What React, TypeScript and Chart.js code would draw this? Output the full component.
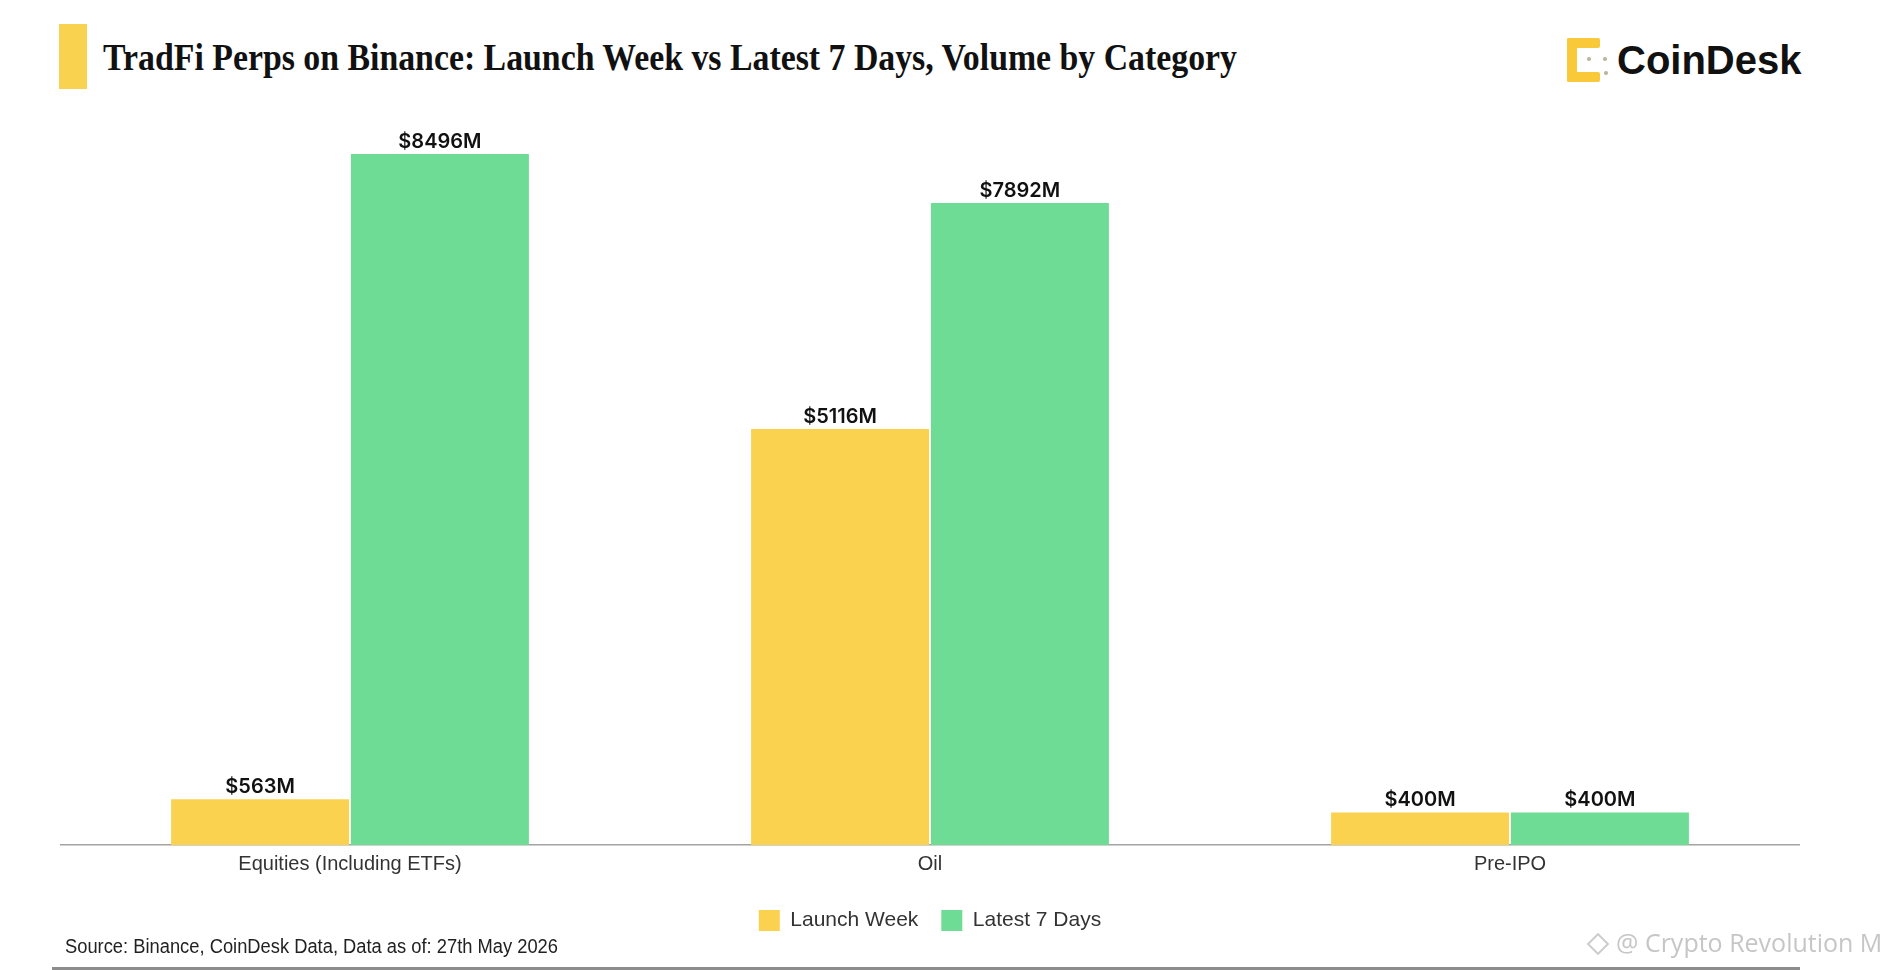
import React, { useEffect, useLayoutEffect, useRef } from 'react';
import { Chart, registerables } from 'chart.js';

Chart.register(...registerables);

const categories = ['Equities (Including ETFs)', 'Oil', 'Pre-IPO'];
const seriesNames = ['Launch Week', 'Latest 7 Days'];
const launchWeek = [563, 5116, 400];
const latest7Days = [8496, 7892, 400];
const Y_MAX = 9000;

const YELLOW = '#FAD250';
const GREEN = '#6EDC94';
const SANS = '"Liberation Sans", Arial, Helvetica, sans-serif';

const valueLabelPlugin = {
  id: 'valueLabels',
  afterDatasetsDraw(chart: any) {
    const { ctx } = chart;
    ctx.save();
    ctx.font = '600 20px Inter, "Liberation Sans", sans-serif';
    ctx.fillStyle = '#111111';
    ctx.textAlign = 'center';
    ctx.textBaseline = 'alphabetic';
    chart.data.datasets.forEach((ds: any, di: number) => {
      const meta = chart.getDatasetMeta(di);
      meta.data.forEach((bar: any, i: number) => {
        ctx.fillText(`$${ds.data[i]}M`, bar.x, bar.y - 6);
      });
    });
    ctx.restore();
  },
};

function FitText({ width, style, children }: { width: number; style?: React.CSSProperties; children: React.ReactNode }) {
  const ref = useRef<HTMLSpanElement>(null);
  useLayoutEffect(() => {
    const el = ref.current;
    if (!el) return;
    el.style.transform = 'none';
    const w = el.getBoundingClientRect().width;
    if (w > 0) el.style.transform = `scaleX(${width / w})`;
  }, [width]);
  return (
    <span
      ref={ref}
      style={{ display: 'inline-block', whiteSpace: 'nowrap', transformOrigin: 'left top', ...style }}
    >
      {children}
    </span>
  );
}

function BarChart() {
  const canvasRef = useRef<HTMLCanvasElement>(null);
  useEffect(() => {
    if (!canvasRef.current) return;
    const chart = new Chart(canvasRef.current, {
      type: 'bar',
      data: {
        labels: categories,
        datasets: [
          {
            label: seriesNames[0],
            data: launchWeek,
            backgroundColor: YELLOW,
            categoryPercentage: 0.62,
            barPercentage: 0.99,
          },
          {
            label: seriesNames[1],
            data: latest7Days,
            backgroundColor: GREEN,
            categoryPercentage: 0.62,
            barPercentage: 0.99,
          },
        ],
      },
      options: {
        animation: false,
        responsive: false,
        maintainAspectRatio: false,
        layout: { padding: { top: 13, left: 0, right: 0, bottom: 0 } },
        plugins: {
          legend: {
            position: 'bottom',
            labels: {
              boxWidth: 21,
              boxHeight: 21,
              padding: 23,
              color: '#333333',
              font: { family: SANS, size: 21 },
            },
          },
          tooltip: { enabled: false },
        },
        scales: {
          x: {
            grid: { display: false, drawTicks: false },
            border: { display: true, color: '#a3a3a3', width: 1.5 },
            ticks: { color: '#333333', padding: 7, font: { family: SANS, size: 20 } },
            afterFit: (s: any) => {
              s.height = 42;
            },
          },
          y: { display: false, min: 0, max: Y_MAX },
        },
      },
      plugins: [valueLabelPlugin],
    } as any);
    return () => chart.destroy();
  }, []);
  return (
    <canvas
      ref={canvasRef}
      width={1740}
      height={841}
      style={{ position: 'absolute', left: 60, top: 100, width: 1740, height: 841 }}
    />
  );
}

function Logo() {
  const Y = '#F9C93A';
  const piece = (l: number, t: number, w: number, h: number): React.CSSProperties => ({
    position: 'absolute', left: l, top: t, width: w, height: h, background: Y, borderRadius: 2,
  });
  const dot = (l: number, t: number): React.CSSProperties => ({
    position: 'absolute', left: l, top: t, width: 4, height: 4, background: '#b8b39a', borderRadius: 2,
  });
  return (
    <>
      <div style={piece(1567, 38, 33, 10)} />
      <div style={piece(1567, 38, 10, 44)} />
      <div style={piece(1567, 72, 33, 10)} />
      <div style={dot(1587, 57)} />
      <div style={dot(1603, 57)} />
      <div style={dot(1604, 71)} />
      <div
        style={{
          position: 'absolute', left: 1617, top: 40, fontFamily: SANS, fontWeight: 700,
          fontSize: 40, lineHeight: '40px', color: '#111111', whiteSpace: 'nowrap',
        }}
      >
        CoinDesk
      </div>
    </>
  );
}

export default function App() {
  useEffect(() => {
    document.body.style.margin = '0';
  }, []);
  return (
    <div
      style={{
        position: 'fixed', left: 0, top: 0, width: 1882, height: 970, overflow: 'hidden',
        background: '#ffffff',
      }}
    >
      <div style={{ position: 'absolute', left: 59, top: 24, width: 28, height: 65, background: '#F9D34F' }} />
      <div
        style={{
          position: 'absolute', left: 103, top: 38, fontFamily: '"Liberation Serif", "Times New Roman", serif',
          fontWeight: 700, fontSize: 38, lineHeight: '38px', color: '#111111',
        }}
      >
        <FitText width={1134}>TradFi Perps on Binance: Launch Week vs Latest 7 Days, Volume by Category</FitText>
      </div>
      <Logo />
      <BarChart />
      <div
        style={{
          position: 'absolute', left: 65, top: 936, fontFamily: SANS, fontSize: 20, lineHeight: '20px',
          color: '#222222',
        }}
      >
        <FitText width={493}>Source: Binance, CoinDesk Data, Data as of: 27th May 2026</FitText>
      </div>
      <div style={{ position: 'absolute', left: 52, top: 967, width: 1748, height: 3, background: '#8c8c8c' }} />
      <div
        style={{
          position: 'absolute', left: 1590, top: 936, width: 12, height: 12, border: '2px solid #cccccc',
          transform: 'rotate(45deg)',
        }}
      />
      <div
        style={{
          position: 'absolute', left: 1616, top: 927, fontFamily: '"Open Sans", sans-serif', fontSize: 25,
          lineHeight: '31px', color: '#c6c6c6', whiteSpace: 'nowrap',
        }}
      >
        @ Crypto Revolution M
      </div>
    </div>
  );
}
